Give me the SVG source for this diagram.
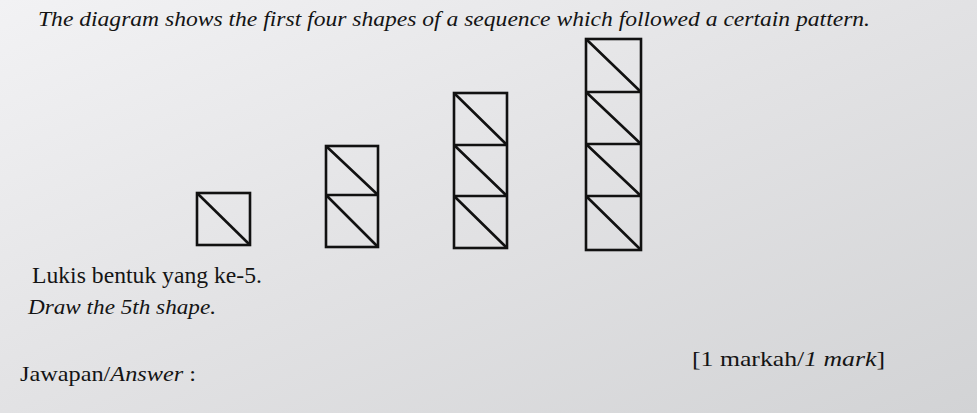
<svg xmlns="http://www.w3.org/2000/svg" width="977" height="413" viewBox="0 0 977 413">
<defs>
<linearGradient id="bg" x1="0" y1="0" x2="1" y2="1">
<stop offset="0" stop-color="#f2f2f4"/>
<stop offset="0.5" stop-color="#e2e2e4"/>
<stop offset="1" stop-color="#d2d3d5"/>
</linearGradient>
<style>
.s{fill:none;stroke:#111;stroke-width:2.6;stroke-linejoin:miter}
.t{font-family:"Liberation Serif",serif;fill:#141414}
.i{font-style:italic}
</style>
</defs>
<rect width="977" height="413" fill="url(#bg)"/>
<text class="t i" x="38" y="26" font-size="22" textLength="832" lengthAdjust="spacingAndGlyphs">The diagram shows the first four shapes of a sequence which followed a certain pattern.</text>
<g id="shape1">
<rect class="s" x="197" y="193" width="53" height="52"/>
<path class="s" d="M197 193L250 245"/>
</g>
<g id="shape2">
<rect class="s" x="326" y="146" width="52" height="101"/>
<path class="s" d="M326 195H378M326 146L378 195M326 195L378 247"/>
</g>
<g id="shape3">
<rect class="s" x="454" y="93" width="53" height="155"/>
<path class="s" d="M454 145H507M454 196H507M454 93L507 145M454 145L507 196M454 196L507 248"/>
</g>
<g id="shape4">
<rect class="s" x="586" y="39" width="55" height="211"/>
<path class="s" d="M586 92H641M586 144H641M586 196H641M586 39L641 92M586 92L641 144M586 144L641 196M586 196L641 250"/>
</g>
<g id="connectors"/>
<text class="t" x="32" y="283" font-size="23" textLength="230" lengthAdjust="spacingAndGlyphs">Lukis bentuk yang ke-5.</text>
<text class="t i" x="28" y="314" font-size="22" textLength="188" lengthAdjust="spacingAndGlyphs">Draw the 5th shape.</text>
<text class="t" x="20" y="381" font-size="22" textLength="176" lengthAdjust="spacingAndGlyphs">Jawapan/<tspan class="i">Answer</tspan> :</text>
<text class="t" x="692" y="366" font-size="22" textLength="193" lengthAdjust="spacingAndGlyphs">[1 markah/<tspan class="i">1 mark</tspan>]</text>
</svg>
